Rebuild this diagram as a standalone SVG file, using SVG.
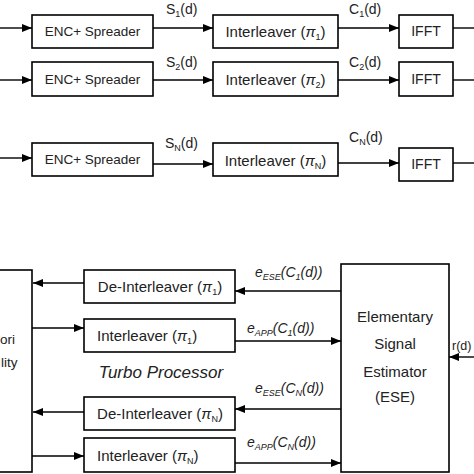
<svg xmlns="http://www.w3.org/2000/svg" width="474" height="474" viewBox="0 0 474 474">
<defs>
<marker id="ah" markerWidth="10" markerHeight="8" refX="10" refY="4" orient="auto" markerUnits="userSpaceOnUse">
<path d="M0,0 L10,4 L0,8 Z" fill="#000"/>
</marker>
<style>
.b{fill:#fff;stroke:#000;stroke-width:1.6}
.c{stroke:#000;stroke-width:1.4;fill:none}
.t{font-family:"Liberation Sans",Arial,sans-serif;font-size:13.5px;fill:#222}
.m{text-anchor:middle}
.i{font-style:italic}
.s{font-size:9px}
.L{font-size:15px}
.e{font-size:14px}
.tp{font-size:17px}
.r{font-size:12.5px}
</style>
</defs>
<rect width="474" height="474" fill="#fff"/>
<g id="enc1"><rect class="b" x="32" y="15" width="121" height="33"/><text class="t m" x="92.5" y="36">ENC+ Spreader</text></g>
<g id="int1"><rect class="b" x="213" y="15" width="125" height="33"/><text class="t L m" x="275.5" y="37">Interleaver (<tspan class="i">π</tspan><tspan class="s" dy="3">1</tspan><tspan dy="-3">)</tspan></text></g>
<g id="ifft1"><rect class="b" x="399" y="15" width="54" height="33"/><text class="t e m" x="426" y="36">IFFT</text></g>
<g id="enc2"><rect class="b" x="32" y="62" width="121" height="34"/><text class="t m" x="92.5" y="84">ENC+ Spreader</text></g>
<g id="int2"><rect class="b" x="213" y="62" width="125" height="34"/><text class="t L m" x="275.5" y="85">Interleaver (<tspan class="i">π</tspan><tspan class="s" dy="3">2</tspan><tspan dy="-3">)</tspan></text></g>
<g id="ifft2"><rect class="b" x="399" y="62" width="54" height="34"/><text class="t e m" x="426" y="84">IFFT</text></g>
<g id="encN"><rect class="b" x="32" y="143" width="121" height="33"/><text class="t m" x="92.5" y="164">ENC+ Spreader</text></g>
<g id="intN"><rect class="b" x="213" y="143" width="125" height="33"/><text class="t L m" x="275.5" y="166">Interleaver (<tspan class="i">π</tspan><tspan class="s" dy="3">N</tspan><tspan dy="-3">)</tspan></text></g>
<g id="ifftN"><rect class="b" x="399" y="148" width="54" height="33"/><text class="t e m" x="426" y="169">IFFT</text></g>
<g id="app"><rect class="b" x="-10" y="270" width="42" height="202"/><text class="t" x="0" y="344">ori</text><text class="t" x="1" y="367">lity</text></g>
<g id="deint1"><rect class="b" x="84" y="270" width="151" height="33"/><text class="t L m" x="160" y="292">De-Interleaver (<tspan class="i">π</tspan><tspan class="s" dy="3">1</tspan><tspan dy="-3">)</tspan></text></g>
<g id="intl1"><rect class="b" x="84" y="319" width="151" height="33"/><text class="t L" x="97" y="341">Interleaver (<tspan class="i">π</tspan><tspan class="s" dy="3">1</tspan><tspan dy="-3">)</tspan></text></g>
<g id="deintN"><rect class="b" x="84" y="397" width="151" height="33"/><text class="t L m" x="160" y="419">De-Interleaver (<tspan class="i">π</tspan><tspan class="s" dy="3">N</tspan><tspan dy="-3">)</tspan></text></g>
<g id="intlN"><rect class="b" x="84" y="438" width="151" height="34"/><text class="t L" x="97" y="461">Interleaver (<tspan class="i">π</tspan><tspan class="s" dy="3">N</tspan><tspan dy="-3">)</tspan></text></g>
<g id="ese"><rect class="b" x="341" y="264" width="108" height="208"/>
<text class="t L m" x="395" y="322">Elementary</text><text class="t L m" x="395" y="349">Signal</text><text class="t L m" x="395" y="377">Estimator</text><text class="t L m" x="395" y="402">(ESE)</text></g>
<text class="t tp i m" x="161" y="378">Turbo Processor</text>
<g id="connectors">
<line class="c" x1="0" y1="28" x2="32" y2="28" marker-end="url(#ah)"/>
<line class="c" x1="153" y1="28" x2="213" y2="28" marker-end="url(#ah)"/>
<line class="c" x1="338" y1="28" x2="399" y2="28" marker-end="url(#ah)"/>
<line class="c" x1="453" y1="28" x2="474" y2="28"/>
<line class="c" x1="0" y1="80" x2="32" y2="80" marker-end="url(#ah)"/>
<line class="c" x1="153" y1="80" x2="213" y2="80" marker-end="url(#ah)"/>
<line class="c" x1="338" y1="80" x2="399" y2="80" marker-end="url(#ah)"/>
<line class="c" x1="453" y1="80" x2="474" y2="80"/>
<line class="c" x1="0" y1="158" x2="32" y2="158" marker-end="url(#ah)"/>
<line class="c" x1="153" y1="164" x2="213" y2="164" marker-end="url(#ah)"/>
<line class="c" x1="338" y1="163" x2="399" y2="163" marker-end="url(#ah)"/>
<line class="c" x1="453" y1="163" x2="474" y2="163"/>
<line class="c" x1="84" y1="283" x2="33" y2="283" marker-end="url(#ah)"/>
<line class="c" x1="32" y1="328" x2="84" y2="328" marker-end="url(#ah)"/>
<line class="c" x1="84" y1="412" x2="33" y2="412" marker-end="url(#ah)"/>
<line class="c" x1="32" y1="456" x2="84" y2="456" marker-end="url(#ah)"/>
<line class="c" x1="341" y1="291" x2="235" y2="291" marker-end="url(#ah)"/>
<line class="c" x1="235" y1="341" x2="341" y2="341" marker-end="url(#ah)"/>
<line class="c" x1="341" y1="409" x2="235" y2="409" marker-end="url(#ah)"/>
<line class="c" x1="235" y1="463" x2="341" y2="463" marker-end="url(#ah)"/>
<line class="c" x1="474" y1="357" x2="449" y2="357" marker-end="url(#ah)"/>
</g>
<g id="labels">
<text class="t e" x="166" y="14">S<tspan class="s" dy="3">1</tspan><tspan dy="-3">(d)</tspan></text>
<text class="t e" x="349" y="14">C<tspan class="s" dy="3">1</tspan><tspan dy="-3">(d)</tspan></text>
<text class="t e" x="166" y="67">S<tspan class="s" dy="3">2</tspan><tspan dy="-3">(d)</tspan></text>
<text class="t e" x="349" y="67">C<tspan class="s" dy="3">2</tspan><tspan dy="-3">(d)</tspan></text>
<text class="t e" x="165" y="148">S<tspan class="s" dy="3">N</tspan><tspan dy="-3">(d)</tspan></text>
<text class="t e" x="349" y="142">C<tspan class="s" dy="3">N</tspan><tspan dy="-3">(d)</tspan></text>
<text class="t e i" x="255" y="277">e<tspan class="s" dy="3">ESE</tspan><tspan dy="-3">(C</tspan><tspan class="s" dy="3">1</tspan><tspan dy="-3">(d))</tspan></text>
<text class="t e i" x="247" y="333">e<tspan class="s" dy="3">APP</tspan><tspan dy="-3">(C</tspan><tspan class="s" dy="3">1</tspan><tspan dy="-3">(d))</tspan></text>
<text class="t e i" x="255" y="393">e<tspan class="s" dy="3">ESE</tspan><tspan dy="-3">(C</tspan><tspan class="s" dy="3">N</tspan><tspan dy="-3">(d))</tspan></text>
<text class="t e i" x="247" y="447">e<tspan class="s" dy="3">APP</tspan><tspan dy="-3">(C</tspan><tspan class="s" dy="3">N</tspan><tspan dy="-3">(d))</tspan></text>
<text class="t r" x="452" y="350">r(d)</text>
</g>
</svg>
